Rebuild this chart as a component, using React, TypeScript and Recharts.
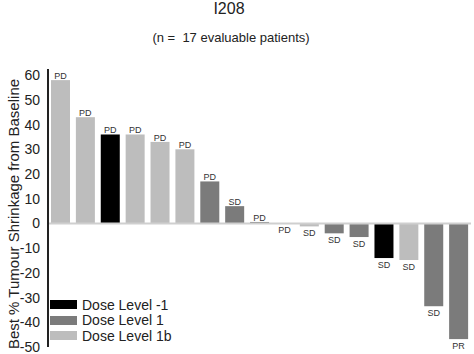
import React from "react";
import { BarChart, Bar, XAxis, YAxis, Cell, ReferenceLine } from "recharts";

const patients = ["P1","P2","P3","P4","P5","P6","P7","P8","P9","P10","P11","P12","P13","P14","P15","P16","P17"];
const shrinkage = [58, 43, 36, 36, 33, 30, 17, 7, 0.6, 0, -1.2, -4, -5.5, -14, -14.8, -33.5, -46.8];
const doseLevels = ["1b","1b","-1","1b","1b","1b","1","1","1","1","1b","1","1","-1","1b","1","1"];
const responses = ["PD","PD","PD","PD","PD","PD","PD","SD","PD","PD","SD","SD","SD","SD","SD","SD","PR"];
const yTicks = [-50, -40, -30, -20, -10, 0, 10, 20, 30, 40, 50, 60];
const legendItems = ["-1", "1", "1b"];

const doseColor: Record<string, string> = { "-1": "#000000", "1": "#7b7b7b", "1b": "#bdbdbd" };

const data = patients.map((p, i) => ({ name: p, value: shrinkage[i], dose: doseLevels[i], resp: responses[i] }));

const font = "'Liberation Sans', Arial, sans-serif";

const BarWithLabel = (props: any) => {
  const { x, y, width, height, payload, fill } = props;
  const v = payload.value;
  const top = Math.min(y, y + height);
  const h = Math.abs(height);
  const cx = x + width / 2;
  return (
    <g>
      {h > 0 && <rect x={x} y={top} width={width} height={h} fill={fill} />}
      {v > 0 ? (
        <text x={cx} y={top - 1} textAnchor="middle" fontSize={9} fill="#333" fontFamily={font}>{payload.resp}</text>
      ) : (
        <text x={cx} y={top + h + 10} textAnchor="middle" fontSize={9} fill="#333" fontFamily={font}>{payload.resp}</text>
      )}
    </g>
  );
};

export default function App() {
  return (
    <div style={{ position: "absolute", left: 0, top: 0, width: 474, height: 354, background: "#fff", fontFamily: font }}>
      <div style={{ position: "absolute", left: 0, width: 458, top: 0, textAlign: "center", fontSize: 16, color: "#222" }}>I208</div>
      <div style={{ position: "absolute", left: 0, width: 462, top: 30, textAlign: "center", fontSize: 13, color: "#222" }}>(n =&nbsp; 17 evaluable patients)</div>
      <div style={{ position: "absolute", left: 0, top: 0 }}>
        <BarChart width={474} height={354} data={data} margin={{ top: 69, right: 3, bottom: 7, left: 8 }} barCategoryGap={3}>
          <XAxis dataKey="name" hide />
          <XAxis xAxisId="frameBottom" dataKey="name" orientation="bottom" height={0} tick={false} tickLine={false} axisLine={{ stroke: "#222", strokeWidth: 2 }} />
          <XAxis xAxisId="frameTop" dataKey="name" orientation="top" height={0} tick={false} tickLine={false} axisLine={{ stroke: "#444", strokeWidth: 2 }} />
          <YAxis yAxisId="frameRight" orientation="right" width={0} tick={false} tickLine={false} axisLine={{ stroke: "#444", strokeWidth: 2 }} />
          <YAxis
            domain={[-50, 62.5]}
            ticks={yTicks}
            width={40}
            tickLine={false}
            axisLine={{ stroke: "#222", strokeWidth: 2 }}
            tick={{ fontSize: 14, fill: "#222", fontFamily: font }}
            interval={0}
          />
          <ReferenceLine y={0} stroke="#cfcfcf" strokeWidth={2} />
          <Bar dataKey="value" isAnimationActive={false} shape={BarWithLabel} minPointSize={0}>
            {data.map((d, i) => (
              <Cell key={i} fill={doseColor[d.dose]} />
            ))}
          </Bar>
        </BarChart>
      </div>
      <svg width={30} height={354} style={{ position: "absolute", left: 0, top: 0 }}>
        <text x={0} y={0} transform="translate(19,214) rotate(-90)" textAnchor="middle" fontSize={15} fill="#222" fontFamily={font}>
          Best % Tumour Shrinkage from Baseline
        </text>
      </svg>
      <div style={{ position: "absolute", left: 50, top: 297 }}>
        {legendItems.map((l) => (
          <div key={l} style={{ display: "flex", alignItems: "center", height: 15.5 }}>
            <div style={{ width: 27, height: 9, background: doseColor[l], marginRight: 5 }} />
            <span style={{ fontSize: 14, color: "#222" }}>Dose Level {l}</span>
          </div>
        ))}
      </div>
    </div>
  );
}
